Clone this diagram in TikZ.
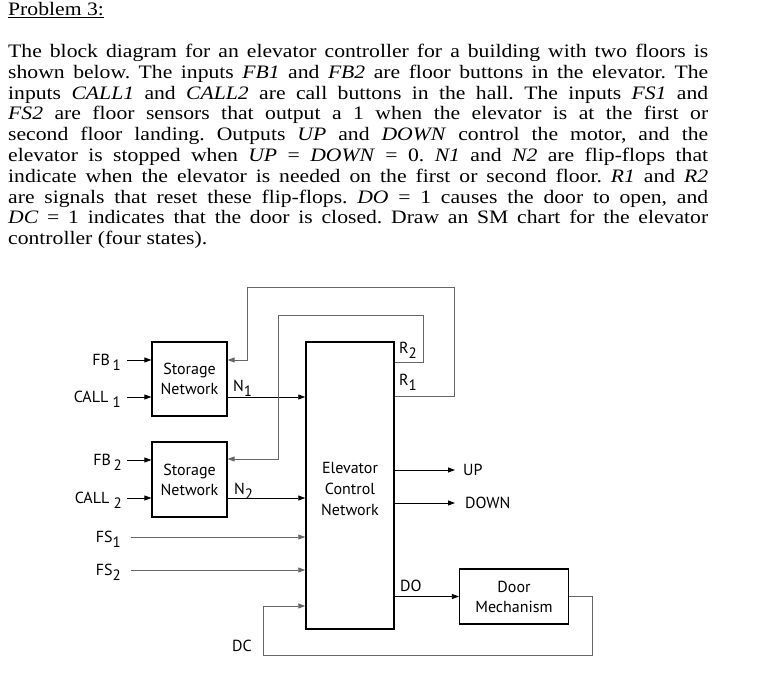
\documentclass[tikz,border=0pt]{standalone}
\usepackage{fontspec}
\setmainfont{Liberation Serif}[FakeStretch=1.14]
\newfontfamily\diagfont{PT Sans}
\usetikzlibrary{arrows.meta}
\tolerance=10000
\hbadness=10000
\hyphenpenalty=10000
\exhyphenpenalty=10000
\frenchspacing
\newcommand{\sbs}[1]{\raisebox{-4.5pt}[0pt][0pt]{\fontsize{15}{15}\selectfont #1}}

\begin{document}
\begin{tikzpicture}[x=1pt,y=-1pt,
		caja/.style={draw, line width=1.2pt, inner sep=0pt, align=center, font=\diagfont\fontsize{16}{20}\selectfont},
		etiqueta/.style={inner sep=0pt, font=\diagfont\fontsize{16}{18}\selectfont},
		flecha/.style={line width=0.8pt, -{Triangle[length=7pt,width=5pt]}},
		lazo/.style={line width=1pt, draw=black!60}]
			\useasboundingbox (0,0) rectangle (760,690);

			% Enunciado
			\node[anchor=north west, inner sep=0pt, font=\fontsize{19}{21}\selectfont] (titulo) at (8,2) {\underline{Problem 3:}};
			\node[anchor=north west, inner sep=0pt, text width=700pt, align=justify, font=\fontsize{19}{20.8}\selectfont] (enunciado) at (8,44)
				{The block diagram for an elevator controller for a building with two floors is\linebreak
				shown below. The inputs \textit{FB1} and \textit{FB2} are floor buttons in the elevator. The\linebreak
				inputs \textit{CALL1} and \textit{CALL2} are call buttons in the hall. The inputs \textit{FS1} and\linebreak
				\textit{FS2} are floor sensors that output a 1 when the elevator is at the first or\linebreak
				second floor landing. Outputs \textit{UP} and \textit{DOWN} control the motor, and the\linebreak
				elevator is stopped when \textit{UP} = \textit{DOWN} = 0. \textit{N1} and \textit{N2} are flip-flops that\linebreak
				indicate when the elevator is needed on the first or second floor. \textit{R1} and \textit{R2}\linebreak
				are signals that reset these flip-flops. \textit{DO} = 1 causes the door to open, and\linebreak
				\textit{DC} = 1 indicates that the door is closed. Draw an SM chart for the elevator\linebreak
				controller (four states).};

			% Dibujar los bloques
			\node[caja, minimum width=75pt, minimum height=74pt] (sn1) at (189.5,379) {Storage\\Network};
			\node[caja, minimum width=75pt, minimum height=75pt] (sn2) at (189.5,479.5) {Storage\\Network};
			\node[caja, line width=1.5pt, minimum width=88pt, minimum height=287pt] (ecn) at (350,485.5) {};
			\node[etiqueta, align=center, font=\diagfont\fontsize{16}{21}\selectfont] (ecntexto) at (350,489) {Elevator\\Control\\Network};
			\node[caja, minimum width=109pt, minimum height=55pt] (puerta) at (514,596.5) {Door\\Mechanism};

			% Entradas
			\coordinate (fb1) at (127,360);
			\coordinate (call1) at (127,397);
			\coordinate (fb2) at (127,460);
			\coordinate (call2) at (127,498);
			\coordinate (fs1) at (131,537);
			\coordinate (fs2) at (131,570);
			\node[etiqueta, anchor=east] (lfb1) at ([xshift=-6pt]fb1) {FB\,\sbs{1}};
			\node[etiqueta, anchor=east] (lcall1) at ([xshift=-6pt]call1) {CALL~\sbs{1}};
			\node[etiqueta, anchor=east] (lfb2) at ([xshift=-5pt]fb2) {FB\,\sbs{2}};
			\node[etiqueta, anchor=east] (lcall2) at ([xshift=-5pt]call2) {CALL~\sbs{2}};
			\node[etiqueta, anchor=east] (lfs1) at ([xshift=-10pt]fs1) {FS\sbs{1}};
			\node[etiqueta, anchor=east] (lfs2) at ([xshift=-10pt]fs2) {FS\sbs{2}};
			\draw[flecha] (fb1) -- (fb1 -| sn1.west);
			\draw[flecha] (call1) -- (call1 -| sn1.west);
			\draw[flecha] (fb2) -- (fb2 -| sn2.west);
			\draw[flecha] (call2) -- (call2 -| sn2.west);
			\draw[lazo, flecha] (fs1) -- (fs1 -| ecn.west);
			\draw[lazo, flecha] (fs2) -- (fs2 -| ecn.west);

			% Salidas de los flip-flops
			\draw[flecha] (sn1.east |- call1) -- (ecn.west |- call1);
			\draw[flecha] (sn2.east |- call2) -- (ecn.west |- call2);
			\node[etiqueta, anchor=south west] (ln1) at (233,392) {N\sbs{1}};
			\node[etiqueta, anchor=south west] (ln2) at (234,495) {N\sbs{2}};

			% Reset de los flip-flops
			\draw[lazo, flecha] (ecn.east |- 0,396) -| (454,287) -| (247,360) -- (sn1.east |- fb1);
			\draw[lazo, flecha] (ecn.east |- 0,362) -| (423,315) -| (278,459) -- (sn2.east |- 0,459);
			\node[etiqueta, anchor=south west] (lr2) at (399,354) {R\sbs{2}};
			\node[etiqueta, anchor=south west] (lr1) at (399,386) {R\sbs{1}};

			% Motor
			\coordinate (up) at (455,470);
			\coordinate (down) at (455,503);
			\draw[flecha] (ecn.east |- up) -- (up);
			\draw[flecha] (ecn.east |- down) -- (down);
			\node[etiqueta, anchor=west] (lup) at ([xshift=8pt]up) {UP};
			\node[etiqueta, anchor=west] (ldown) at ([xshift=10pt]down) {DOWN};

			% Puerta
			\draw[flecha] (ecn.east |- puerta.west) -- (puerta.west);
			\draw[lazo, flecha] (puerta.east) -| (592,655) -| (263,606) -- (ecn.west |- 0,606);
			\node[etiqueta, anchor=south west] (ldo) at (400,592) {DO};
			\node[etiqueta, anchor=south west] (ldc) at (232,652) {DC};
		\end{tikzpicture}
\end{document}
